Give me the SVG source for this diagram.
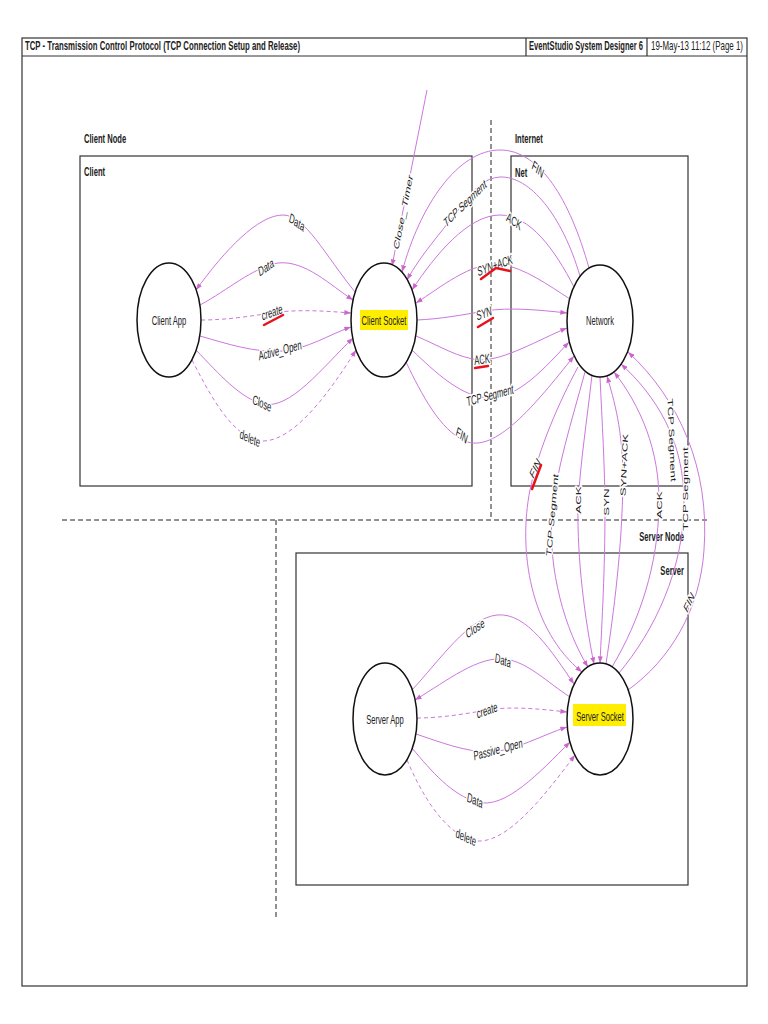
<svg xmlns="http://www.w3.org/2000/svg" width="768" height="1024" viewBox="0 0 768 1024">
<style>
.frame{fill:#fff;stroke:#333;stroke-width:1.2}
.line{fill:none;stroke:#333;stroke-width:1.2}
.box{fill:none;stroke:#333;stroke-width:1.2}
.sep{fill:none;stroke:#222;stroke-width:1;stroke-dasharray:5,3}
.node{fill:#fff;stroke:#111;stroke-width:1.5}
.e{fill:none;stroke:#cc77dd;stroke-width:1;marker-end:url(#ah)}
.d{stroke-dasharray:4,3}
.red{fill:none;stroke:#e8121a;stroke-width:2.5;stroke-linecap:round;stroke-linejoin:round}
text{font-family:"Liberation Sans",Arial,sans-serif;font-size:7.6px;fill:#222}
.lbl{text-anchor:middle;dominant-baseline:central;paint-order:stroke;stroke:#fff;stroke-width:2.2px;stroke-linejoin:round}
.b{font-weight:bold}
.nl{text-anchor:middle;dominant-baseline:central}
.end{text-anchor:end}
.hl{fill:#ffee00}
</style>
<defs>
<marker id="ah" viewBox="0 0 8 6" refX="8" refY="3" markerWidth="7" markerHeight="5" markerUnits="userSpaceOnUse" orient="auto">
<path d="M0,0 L8,3 L0,6 z" fill="#cc66cc"/>
</marker>
</defs>

<g id="page">
<rect class="frame" x="22" y="38" width="725" height="948"/>
<line class="line" x1="22" y1="56" x2="747" y2="56"/>
<line class="line" x1="526" y1="38" x2="526" y2="56"/>
<line class="line" x1="647" y1="38" x2="647" y2="56"/>
<text class="b" transform="translate(25,50) scale(1,1.6)" textLength="275" lengthAdjust="spacingAndGlyphs">TCP - Transmission Control Protocol (TCP Connection Setup and Release)</text>
<text class="b" transform="translate(529,50) scale(1,1.6)" textLength="114" lengthAdjust="spacingAndGlyphs">EventStudio System Designer 6</text>
<text transform="translate(651,50) scale(1,1.6)" textLength="92" lengthAdjust="spacingAndGlyphs">19-May-13 11:12 (Page 1)</text>
</g>

<g id="separators">
<line class="sep" x1="491" y1="120" x2="491" y2="520"/>
<line class="sep" x1="62" y1="520" x2="708" y2="520"/>
<line class="sep" x1="276" y1="520" x2="276" y2="918"/>
</g>

<g id="client-node">
<text class="b" transform="translate(84,143) scale(1,1.75)">Client Node</text>
<rect class="box" x="80" y="156" width="392" height="330"/>
<text class="b" transform="translate(84,176) scale(1,1.75)">Client</text>
</g>
<g id="internet">
<text class="b" transform="translate(515,143) scale(1,1.75)">Internet</text>
<rect class="box" x="511" y="156" width="177" height="330"/>
<text class="b" transform="translate(515,177) scale(1,1.75)">Net</text>
</g>
<g id="server-node">
<text class="b end" transform="translate(684,541) scale(1,1.75)">Server Node</text>
<rect class="box" x="296" y="553" width="392" height="332"/>
<text class="b end" transform="translate(684,575) scale(1,1.75)">Server</text>
</g>

<g id="connectors">
<path class="e" d="M 355 292 C 325 255, 305 215, 283 215 C 258 215, 225 250, 196 290"/>
<path class="e" d="M 200 305 C 228 290, 252 268, 278 263 C 305 260, 330 285, 353 300"/>
<path class="e d" d="M 201 320 C 228 320, 250 316, 272 313 C 298 309, 325 311, 351 313"/>
<path class="e" d="M 200 336 C 228 344, 255 353, 282 351 C 308 349, 330 334, 351 327"/>
<path class="e" d="M 196 350 C 220 375, 240 398, 263 404 C 290 410, 322 368, 353 338"/>
<path class="e d" d="M 192 360 C 210 395, 228 428, 252 439 C 285 452, 325 400, 356 350"/>
<path class="e" d="M 427 90 L 392 266"/>
<path class="e" d="M 589 268 C 570 200, 540 150, 500 150 C 458 150, 420 205, 402 272"/>
<path class="e" d="M 580 276 C 562 215, 530 176, 500 177 C 485 178, 475 188, 465 201 C 450 222, 420 255, 407 280"/>
<path class="e" d="M 574 287 C 555 250, 530 215, 500 215 C 468 215, 435 255, 412 290"/>
<path class="e" d="M 570 299 C 548 285, 525 268, 500 264 C 470 262, 440 288, 416 303"/>
<path class="e" d="M 417 320 C 440 319, 462 315, 485 311 C 510 307, 540 310, 567 313"/>
<path class="e" d="M 416 336 C 440 346, 458 358, 480 360 C 505 360, 538 340, 567 328"/>
<path class="e" d="M 412 350 C 435 372, 462 398, 490 398 C 518 398, 545 368, 569 342"/>
<path class="e" d="M 406 362 C 422 395, 440 430, 465 441 C 495 454, 535 405, 574 356"/>
<path class="e" d="M 578 367 C 560 400, 538 450, 530 490 C 518 550, 530 630, 582 672"/>
<path class="e" d="M 585 372 C 572 420, 556 470, 552 515 C 548 570, 565 630, 588 667"/>
<path class="e" d="M 592 375 C 587 420, 580 465, 578 505 C 577 560, 585 620, 594 664"/>
<path class="e" d="M 600 377 C 602 420, 605 470, 605 510 C 605 570, 602 620, 600 663"/>
<path class="e" d="M 606 664 C 614 610, 622 550, 623 480 C 623 430, 614 400, 607 376"/>
<path class="e" d="M 612 667 C 640 620, 658 565, 659 505 C 660 450, 640 405, 614 372"/>
<path class="e" d="M 619 673 C 655 630, 683 570, 684 505 C 685 440, 655 395, 621 364"/>
<path class="e" d="M 628 690 C 670 660, 700 610, 704 550 C 710 470, 680 400, 628 352"/>
<path class="e" d="M 412 690 C 440 660, 468 618, 497 615 C 527 612, 552 652, 574 684"/>
<path class="e" d="M 570 697 C 548 683, 528 662, 505 659 C 478 656, 448 680, 415 700"/>
<path class="e d" d="M 417 718 C 440 718, 465 714, 487 710 C 512 706, 540 709, 567 712"/>
<path class="e" d="M 416 734 C 440 742, 465 752, 490 752 C 515 751, 542 735, 567 727"/>
<path class="e" d="M 412 748 C 432 772, 452 795, 477 802 C 505 810, 540 772, 570 742"/>
<path class="e d" d="M 407 760 C 422 795, 442 828, 468 839 C 500 852, 540 802, 575 755"/>

<text class="lbl" transform="translate(297,222) scale(1,1.75) rotate(21.8)">Data</text>
<text class="lbl" transform="translate(266,267) scale(1,1.75) rotate(-21.8)">Data</text>
<text class="lbl" transform="translate(272,312) scale(1,1.75) rotate(-11.7)">create</text>
<text class="lbl" transform="translate(280,350) scale(1,1.75) rotate(-8.7)">Active_Open</text>
<text class="lbl" transform="translate(262,403) scale(1,1.75) rotate(14.9)">Close</text>
<text class="lbl" transform="translate(250,438) scale(1,1.75) rotate(14.9)">delete</text>
<text class="lbl" transform="translate(403,212) scale(1,1.75) rotate(-70.8)">Close_ Timer</text>
<text class="lbl" transform="translate(538,169) scale(1,1.75) rotate(29.7)">FIN</text>
<text class="lbl" transform="translate(465,203) scale(1,1.75) rotate(-29.7)">TCP Segment</text>
<text class="lbl" transform="translate(514,221) scale(1,1.75) rotate(21.8)">ACK</text>
<text class="lbl" transform="translate(495,265) scale(1,1.75) rotate(-11.7)">SYN+ACK</text>
<text class="lbl" transform="translate(484,313) scale(1,1.75) rotate(-11.7)">SYN</text>
<text class="lbl" transform="translate(482,359) scale(1,1.75) rotate(-4.6)">ACK</text>
<text class="lbl" transform="translate(490,395) scale(1,1.75) rotate(-8.7)">TCP Segment</text>
<text class="lbl" transform="translate(462,435) scale(1,1.75) rotate(25.6)">FIN</text>
<text class="lbl" transform="translate(535,468) scale(1,1.75) rotate(-50.8)">FIN</text>
<text class="lbl" transform="translate(552,515) scale(1,1.75) rotate(-81.3)">TCP Segment</text>
<text class="lbl" transform="translate(578,500) scale(1,1.75) rotate(-90)">ACK</text>
<text class="lbl" transform="translate(606,502) scale(1,1.75) rotate(-90)">SYN</text>
<text class="lbl" transform="translate(624,465) scale(1,1.75) rotate(-86)">SYN+ACK</text>
<text class="lbl" transform="translate(659,505) scale(1,1.75) rotate(-90)">ACK</text>
<text class="lbl" transform="translate(672,440) scale(1,1.75) rotate(86)">TCP Segment</text>
<text class="lbl" transform="translate(685,489) scale(1,1.75) rotate(-90)">TCP Segment</text>
<text class="lbl" transform="translate(689,602) scale(1,1.75) rotate(-50.8)">FIN</text>
<text class="lbl" transform="translate(475,628) scale(1,1.75) rotate(-21.8)">Close</text>
<text class="lbl" transform="translate(503,660) scale(1,1.75) rotate(11.7)">Data</text>
<text class="lbl" transform="translate(487,710) scale(1,1.75) rotate(-11.7)">create</text>
<text class="lbl" transform="translate(498,749) scale(1,1.75) rotate(-8.7)">Passive_Open</text>
<text class="lbl" transform="translate(475,800) scale(1,1.75) rotate(14.9)">Data</text>
<text class="lbl" transform="translate(466,837) scale(1,1.75) rotate(14.9)">delete</text>
</g>

<g id="highlights">
<polyline class="red" points="264,325 283,315"/>
<polyline class="red" points="481,279 496,268 510,271"/>
<polyline class="red" points="478,327 493,318"/>
<polyline class="red" points="475,368 488,366"/>
<polyline class="red" points="541,465 532,489"/>
</g>

<g id="client-app">
<ellipse class="node" cx="169" cy="320" rx="32" ry="57"/>
<text class="nl" transform="translate(169,320) scale(1,1.75)">Client App</text>
</g>
<g id="client-socket">
<ellipse class="node" cx="384" cy="320" rx="33" ry="57"/>
<rect class="hl" x="360" y="310" width="48" height="20"/>
<text class="nl" transform="translate(384,320) scale(1,1.75)">Client Socket</text>
</g>
<g id="network">
<ellipse class="node" cx="600" cy="321" rx="33" ry="56"/>
<text class="nl" transform="translate(600,320) scale(1,1.75)">Network</text>
</g>
<g id="server-app">
<ellipse class="node" cx="385" cy="719" rx="32" ry="56"/>
<text class="nl" transform="translate(385,719) scale(1,1.75)">Server App</text>
</g>
<g id="server-socket">
<ellipse class="node" cx="600" cy="719" rx="33" ry="56"/>
<rect class="hl" x="573" y="704" width="53" height="22"/>
<text class="nl" transform="translate(600,716) scale(1,1.75)">Server Socket</text>
</g>
</svg>
